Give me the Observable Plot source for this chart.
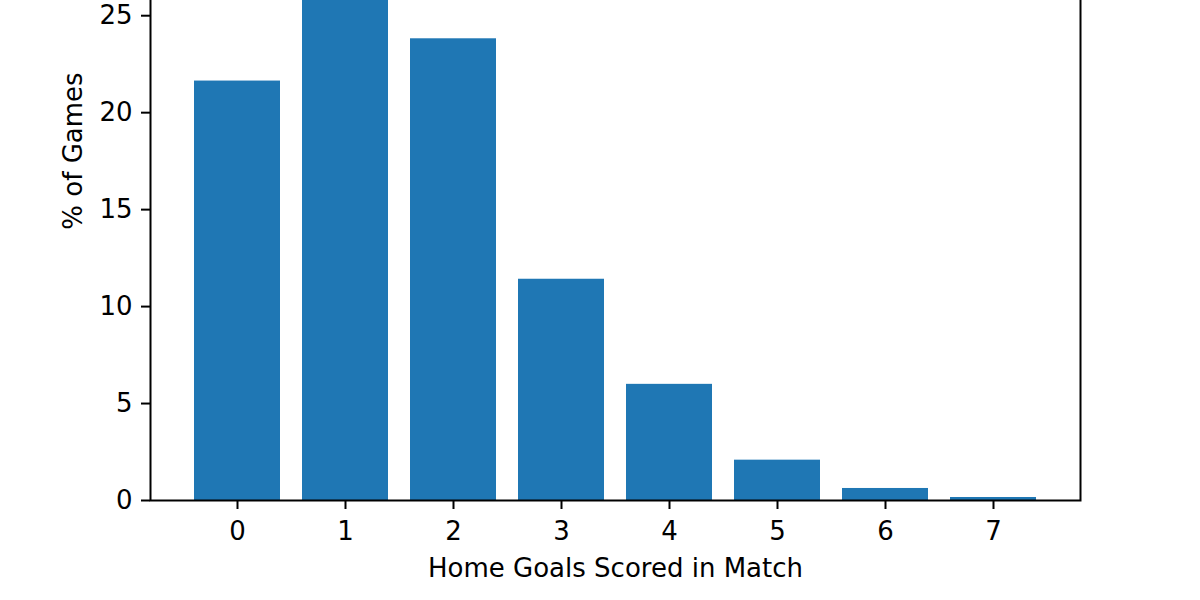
<!DOCTYPE html>
<html>
<head>
<meta charset="utf-8">
<script src="https://cdn.jsdelivr.net/npm/d3@7"></script>
<script src="https://cdn.jsdelivr.net/npm/@observablehq/plot@0.6"></script>
<style>
  html, body { margin: 0; padding: 0; background: #fff; overflow: hidden; }
  #chart { width: 1200px; height: 600px; overflow: hidden; position: relative; }
  #chart svg { display: block; position: absolute; left: 0; top: -199px; }
</style>
</head>
<body>
<div id="chart"></div>
<script>
const goals = [0, 1, 2, 3, 4, 5, 6, 7];
const pctGames = [21.63, 34.33, 23.81, 11.41, 5.99, 2.08, 0.62, 0.155];
const yTicks = [0, 5, 10, 15, 20, 25];
const xLabel = "Home Goals Scored in Match";
const yLabel = "% of Games";

const data = goals.map((g, i) => ({goal: g, pct: pctGames[i]}));
const font = "DejaVu Sans";

const plot = Plot.plot({
  width: 1200,
  height: 799,
  marginTop: 0,
  marginBottom: 100,
  marginLeft: 150,
  marginRight: 120,
  style: {fontFamily: font, fontSize: "26px", background: "#fff", color: "#000"},
  x: {type: "band", domain: goals, paddingInner: 0.2, paddingOuter: 0.39, label: null},
  y: {domain: [0, d3.max(pctGames) * 1.05], label: null},
  marks: [
    Plot.barY(data, {x: "goal", y: "pct", fill: "#1f77b4"}),
    Plot.axisX({tickSize: 9, tickPadding: 12, strokeWidth: 2, fontSize: 26, label: null, fill: "#000"}),
    Plot.axisY({ticks: yTicks, tickSize: 9, tickPadding: 9, strokeWidth: 2, fontSize: 26, label: null, fill: "#000"}),
    Plot.frame({stroke: "#000", strokeWidth: 2}),
    Plot.text([xLabel], {frameAnchor: "bottom", textAnchor: "middle", lineAnchor: "middle", dy: 68, fontSize: 26, fill: "#000"}),
    Plot.text([yLabel], {frameAnchor: "left", textAnchor: "middle", lineAnchor: "middle", dx: -77, rotate: -90, fontSize: 26, fill: "#000"})
  ]
});
document.getElementById("chart").appendChild(plot);
</script>
</body>
</html>
